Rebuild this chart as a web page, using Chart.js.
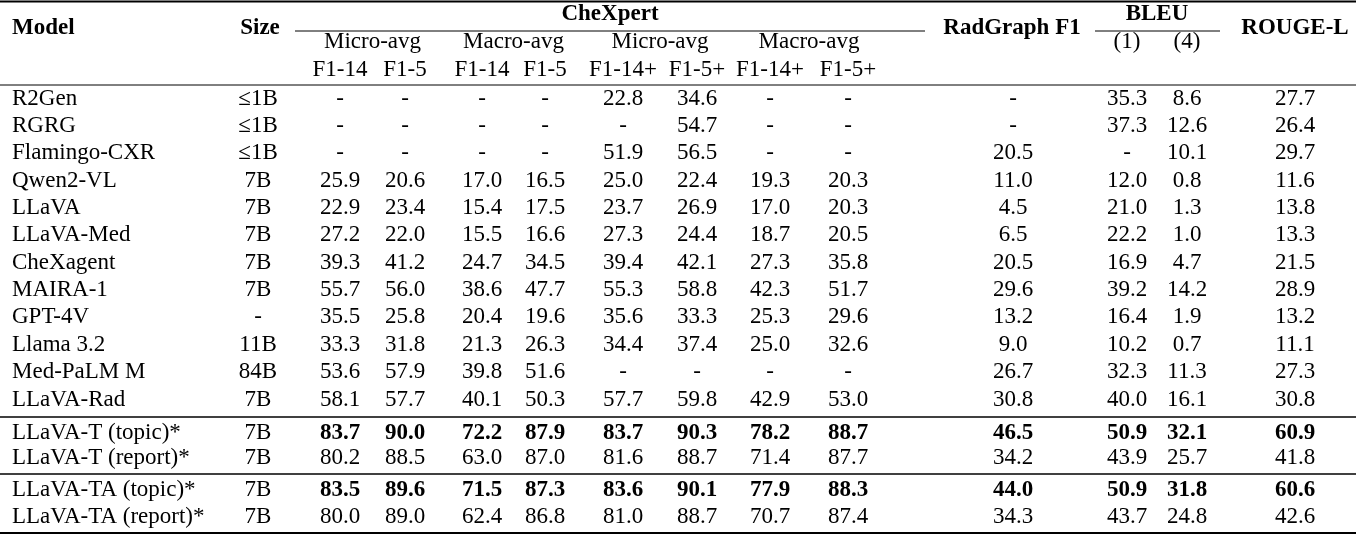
<!DOCTYPE html>
<html lang="en">
<head>
  <meta charset="UTF-8" />
  <title>Results table</title>
  <script src="https://cdn.jsdelivr.net/npm/chart.js"></script>
  <style>
    body { margin: 0; background: #fff; }
    #wrap { width: 1356px; height: 537px; }
  </style>
</head>
<body>
  <div id="wrap"><canvas id="tbl"></canvas></div>
  <script>
    const models = ['R2Gen', 'RGRG', 'Flamingo-CXR', 'Qwen2-VL', 'LLaVA', 'LLaVA-Med', 'CheXagent', 'MAIRA-1',
      'GPT-4V', 'Llama 3.2', 'Med-PaLM M', 'LLaVA-Rad', 'LLaVA-T (topic)*', 'LLaVA-T (report)*',
      'LLaVA-TA (topic)*', 'LLaVA-TA (report)*'];
    const sizes = ['≤1B', '≤1B', '≤1B', '7B', '7B', '7B', '7B', '7B', '-', '11B', '84B', '7B', '7B', '7B', '7B', '7B'];
    const metrics = ['F1-14', 'F1-5', 'F1-14', 'F1-5', 'F1-14+', 'F1-5+', 'F1-14+', 'F1-5+', 'RadGraph F1', 'BLEU (1)', 'BLEU (4)', 'ROUGE-L'];
    // one row per model, null = "-"
    const scores = [
      [null, null, null, null, 22.8, 34.6, null, null, null, 35.3, 8.6, 27.7],
      [null, null, null, null, null, 54.7, null, null, null, 37.3, 12.6, 26.4],
      [null, null, null, null, 51.9, 56.5, null, null, 20.5, null, 10.1, 29.7],
      [25.9, 20.6, 17.0, 16.5, 25.0, 22.4, 19.3, 20.3, 11.0, 12.0, 0.8, 11.6],
      [22.9, 23.4, 15.4, 17.5, 23.7, 26.9, 17.0, 20.3, 4.5, 21.0, 1.3, 13.8],
      [27.2, 22.0, 15.5, 16.6, 27.3, 24.4, 18.7, 20.5, 6.5, 22.2, 1.0, 13.3],
      [39.3, 41.2, 24.7, 34.5, 39.4, 42.1, 27.3, 35.8, 20.5, 16.9, 4.7, 21.5],
      [55.7, 56.0, 38.6, 47.7, 55.3, 58.8, 42.3, 51.7, 29.6, 39.2, 14.2, 28.9],
      [35.5, 25.8, 20.4, 19.6, 35.6, 33.3, 25.3, 29.6, 13.2, 16.4, 1.9, 13.2],
      [33.3, 31.8, 21.3, 26.3, 34.4, 37.4, 25.0, 32.6, 9.0, 10.2, 0.7, 11.1],
      [53.6, 57.9, 39.8, 51.6, null, null, null, null, 26.7, 32.3, 11.3, 27.3],
      [58.1, 57.7, 40.1, 50.3, 57.7, 59.8, 42.9, 53.0, 30.8, 40.0, 16.1, 30.8],
      [83.7, 90.0, 72.2, 87.9, 83.7, 90.3, 78.2, 88.7, 46.5, 50.9, 32.1, 60.9],
      [80.2, 88.5, 63.0, 87.0, 81.6, 88.7, 71.4, 87.7, 34.2, 43.9, 25.7, 41.8],
      [83.5, 89.6, 71.5, 87.3, 83.6, 90.1, 77.9, 88.3, 44.0, 50.9, 31.8, 60.6],
      [80.0, 89.0, 62.4, 86.8, 81.0, 88.7, 70.7, 87.4, 34.3, 43.7, 24.8, 42.6]
    ];
    const boldRows = [12, 14];

    // layout (pixel units of the 0..1356 / 0..537 scales)
    const colX = [340, 405, 482, 545, 623, 697, 770, 848, 1013, 1127, 1187, 1295];
    const rowY = [99, 126, 153, 181, 208, 235, 263, 290, 317, 345, 372, 400, 433, 458, 490, 517];
    const FONT = '"Liberation Serif", "DejaVu Serif", serif';
    const SIZE = 23;

    const tablePlugin = {
      id: 'tablePlugin',
      afterDraw(chart) {
        const ctx = chart.ctx, xs = chart.scales.x, ys = chart.scales.y;
        const X = v => xs.getPixelForValue(v), Y = v => ys.getPixelForValue(v);
        ctx.save();
        ctx.fillStyle = '#000';
        ctx.strokeStyle = '#000';
        ctx.textBaseline = 'middle';
        const txt = (s, x, y, bold, align) => {
          ctx.font = (bold ? 'bold ' : '') + SIZE + 'px ' + FONT;
          ctx.textAlign = align || 'center';
          ctx.fillText(s, X(x), Y(y));
        };
        const line = (x1, x2, y, w) => {
          ctx.lineWidth = w;
          ctx.beginPath(); ctx.moveTo(X(x1), Y(y)); ctx.lineTo(X(x2), Y(y)); ctx.stroke();
        };
        // header
        txt('Model', 12, 28, true, 'left');
        txt('Size', 260, 28, true);
        txt('CheXpert', 610, 14, true);
        txt('RadGraph F1', 1012, 28, true);
        txt('BLEU', 1157, 14, true);
        txt('ROUGE-L', 1295, 28, true);
        txt('(1)', 1127, 42);
        txt('(4)', 1187, 42);
        ['Micro-avg', 'Macro-avg', 'Micro-avg', 'Macro-avg'].forEach((s, i) =>
          txt(s, (colX[i * 2] + colX[i * 2 + 1]) / 2, 42));
        metrics.slice(0, 8).forEach((m, i) => txt(m, colX[i], 70));
        line(295, 925, 31, 1);
        line(1095, 1220, 31, 1);
        // rules
        line(0, 1356, 1.5, 2);
        line(0, 1356, 85, 1);
        line(0, 1356, 417, 1.3);
        line(0, 1356, 474, 1.3);
        line(0, 1356, 533, 2);
        // body
        models.forEach((m, r) => {
          txt(m, 12, rowY[r], false, 'left');
          txt(sizes[r], 258, rowY[r]);
          scores[r].forEach((v, c) =>
            txt(v === null ? '-' : v.toFixed(1), colX[c], rowY[r], boldRows.includes(r)));
        });
        ctx.restore();
      }
    };

    new Chart(document.getElementById('tbl'), {
      type: 'scatter',
      data: {
        datasets: [{
          data: models.flatMap((_, r) => colX.map(x => ({ x, y: rowY[r] }))),
          pointRadius: 0
        }]
      },
      options: {
        responsive: true,
        maintainAspectRatio: false,
        animation: false,
        layout: { padding: 0 },
        plugins: { legend: { display: false }, tooltip: { enabled: false } },
        scales: {
          x: { type: 'linear', min: 0, max: 1356, display: false },
          y: { type: 'linear', min: 0, max: 537, reverse: true, display: false }
        }
      },
      plugins: [tablePlugin]
    });
  </script>
</body>
</html>
